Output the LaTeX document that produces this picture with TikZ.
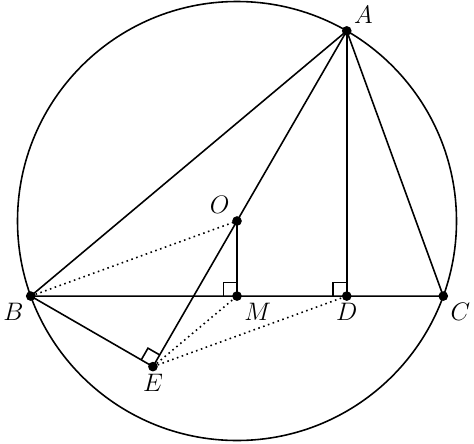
\documentclass[tikz,border=0pt]{standalone}
\usepackage{tikz}
\usetikzlibrary{calc}

\begin{document}
\begin{tikzpicture}
    \tikzstyle{l}=[line width=0.9pt]
    \tikzstyle{d}=[line width=0.9pt, dotted]
    \tikzstyle{p}=[shape=circle, fill=black, inner sep=0pt, minimum size=5.5pt]
    \tikzstyle{t}=[font=\Large, inner sep=4pt]
    \def\R{4.39}
    \def\s{0.27}

    \useasboundingbox (-4.74,-4.44) rectangle (4.74,4.42);

    % circle
    \coordinate (O_c) at (0,0);
    \draw[l] (O_c) circle (\R);

    % points on the circle
    \coordinate (A_c) at (60:\R);
    \coordinate (B_c) at (200:\R);
    \coordinate (C_c) at (340:\R);

    % midpoint and foot of the altitude
    \coordinate (M_c) at ($(B_c)!0.5!(C_c)$);
    \coordinate (D_c) at ($(B_c)!(A_c)!(C_c)$);

    % foot of the perpendicular from B on AO
    \coordinate (E_c) at ($(A_c)!(B_c)!(O_c)$);

    % triangle
    \draw[l] (A_c) -- (B_c) -- (C_c) -- cycle;
    \draw[l] (A_c) -- (E_c);
    \draw[l] (A_c) -- (D_c);
    \draw[l] (O_c) -- (M_c);
    \draw[l] (B_c) -- (E_c);

    % dotted
    \draw[d] (B_c) -- (O_c);
    \draw[d] (E_c) -- (M_c);
    \draw[d] (E_c) -- (D_c);

    % right angles
    \draw[l] ($(M_c)+(-\s,0)$) -- ++(0,\s) -- ++(\s,0);
    \draw[l] ($(D_c)+(-\s,0)$) -- ++(0,\s) -- ++(\s,0);
    \draw[l] ($(E_c)!\s cm!(B_c)$) -- ($(E_c)!\s cm!(B_c)!\s cm!90:(E_c)$) -- ($(E_c)!\s cm!(A_c)$);

    % points
    \node[p] (A) at (A_c) {};
    \node[p] (B) at (B_c) {};
    \node[p] (C) at (C_c) {};
    \node[p] (O) at (O_c) {};
    \node[p] (M) at (M_c) {};
    \node[p] (D) at (D_c) {};
    \node[p] (E) at (E_c) {};

    % labels
    \node[t, above right] at (A) {$A$};
    \node[t, below left] at (B) {$B$};
    \node[t, below right] at (C) {$C$};
    \node[t, above left] at (O) {$O$};
    \node[t, below right] at (M) {$M$};
    \node[t, below] at (D) {$D$};
    \node[t, below] at (E) {$E$};

\end{tikzpicture}
\end{document}
